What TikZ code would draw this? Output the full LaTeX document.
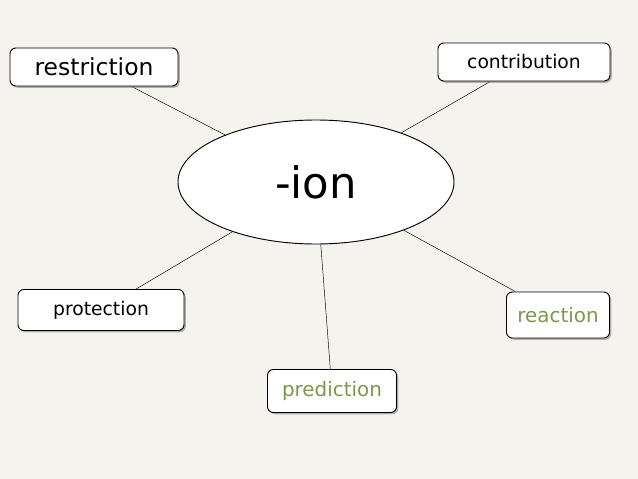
\documentclass[tikz,border=0pt]{standalone}
\usepackage{fontspec}
\setmainfont{DejaVu Sans}
\usetikzlibrary{shapes.geometric,shadows,backgrounds}
\definecolor{paper}{HTML}{F4F3EE}
\definecolor{leaf}{HTML}{7A9A4A}

\begin{document}
\begin{tikzpicture}[x=0.03cm,y=-0.03cm]
	\tikzstyle{every node}+=[inner sep=0pt]
	\tikzstyle{word}=[draw,thick,rounded corners=5pt,fill=white,drop shadow={shadow xshift=1.5pt,shadow yshift=-1.5pt,opacity=0.6}]
	\node [draw,ellipse,thick,fill=white,minimum width=8.28cm,minimum height=3.72cm,font=\fontsize{37}{40}\selectfont] (ion) at (316,182) {-ion};
	\node [word,minimum width=5.04cm,minimum height=1.14cm,font=\fontsize{20}{22}\selectfont] (restr) at (94,67) {restriction};
	\node [word,minimum width=5.16cm,minimum height=1.14cm,font=\fontsize{16}{18}\selectfont] (contr) at (524,62) {contribution};
	\node [word,minimum width=4.98cm,minimum height=1.23cm,font=\fontsize{16}{18}\selectfont] (prot) at (101,310) {protection};
	\node [word,minimum width=3.09cm,minimum height=1.38cm,font=\fontsize{17}{19}\selectfont,text=leaf] (react) at (558,315) {reaction};
	\node [word,minimum width=3.87cm,minimum height=1.29cm,font=\fontsize{17}{19}\selectfont,text=leaf] (pred) at (332,391) {prediction};
	\begin{scope}[on background layer]
	\fill [paper] (0,0) rectangle (638,479);
	\draw (ion) -- (restr);
	\draw (ion) -- (contr);
	\draw (ion) -- (prot);
	\draw (ion) -- (react);
	\draw (ion) -- (pred);
	\end{scope}
	\useasboundingbox (0,0) rectangle (638,479);
\end{tikzpicture}
\end{document}
